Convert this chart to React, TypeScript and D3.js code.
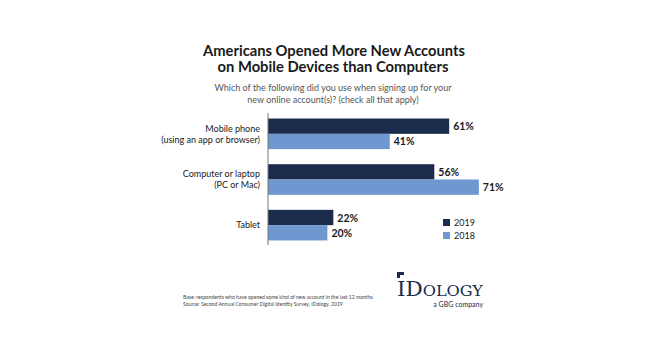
import React from "react";
import * as d3 from "d3";

const categories = ["Mobile phone", "Computer or laptop", "Tablet"];
const categoryLines = [
  ["Mobile phone", "(using an app or browser)"],
  ["Computer or laptop", "(PC or Mac)"],
  ["Tablet"],
];
const seriesNames = ["2019", "2018"];
const values2019 = [61, 56, 22];
const values2018 = [41, 71, 20];
const seriesValues = [values2019, values2018];
const seriesColors = ["#1b2b4b", "#6f97d0"];

const W = 668;
const H = 350;
const FONT = "Lato, 'Open Sans', sans-serif";

export default function App() {
  const x = d3.scaleLinear().domain([0, 100]).range([268, 565]);
  const y = d3
    .scaleBand<string>()
    .domain(categories)
    .range([111, 248])
    .paddingInner(0.33)
    .paddingOuter(0.165);
  const ySub = d3
    .scaleBand<string>()
    .domain(seriesNames)
    .range([0, y.bandwidth()]);

  return (
    <svg
      width={W}
      height={H}
      viewBox={`0 0 ${W} ${H}`}
      style={{ position: "absolute", left: 0, top: 0, background: "#fff" }}
    >
      <rect x={0} y={0} width={W} height={H} fill="#fff" />
      {/* Title */}
      <text
        x={334}
        y={55.5}
        textAnchor="middle"
        fontFamily={FONT}
        fontWeight={700}
        fontSize={15.5}
        textLength={262}
        lengthAdjust="spacingAndGlyphs"
        fill="#1a1a1a"
      >
        Americans Opened More New Accounts
      </text>
      <text
        x={333}
        y={72}
        textAnchor="middle"
        fontFamily={FONT}
        fontWeight={700}
        fontSize={15.5}
        textLength={231}
        lengthAdjust="spacingAndGlyphs"
        fill="#1a1a1a"
      >
        on Mobile Devices than Computers
      </text>
      <text x={333} y={91} textAnchor="middle" fontFamily={FONT} fontSize={9} fill="#555">
        Which of the following did you use when signing up for your
      </text>
      <text x={333} y={103} textAnchor="middle" fontFamily={FONT} fontSize={9} fill="#555">
        new online account(s)? (check all that apply)
      </text>

      {/* Bars */}
      {categories.map((c, ci) =>
        seriesNames.map((s, si) => {
          const v = seriesValues[si][ci];
          const by = (y(c) ?? 0) + (ySub(s) ?? 0);
          const bh = ySub.bandwidth();
          return (
            <g key={c + s}>
              <rect
                x={x(0)}
                y={by}
                width={x(v) - x(0)}
                height={bh}
                fill={seriesColors[si]}
              />
              <text
                x={x(v) + 4}
                y={by + bh / 2 + 4}
                fontFamily={FONT}
                fontWeight={700}
                fontSize={10.5}
                fill="#1a1a1a"
              >
                {v}%
              </text>
            </g>
          );
        })
      )}

      {/* Axis line */}
      <line x1={x(0)} x2={x(0)} y1={113} y2={245} stroke="#777" strokeWidth={1} />

      {/* Category labels */}
      {categories.map((c, ci) => {
        const lines = categoryLines[ci];
        const cy = (y(c) ?? 0) + y.bandwidth() / 2;
        const lh = 11;
        const start = cy - ((lines.length - 1) * lh) / 2 + 3.2;
        return (
          <text
            key={c}
            textAnchor="end"
            fontFamily={FONT}
            fontSize={9}
            fill="#1a1a1a"
          >
            {lines.map((l, li) => (
              <tspan key={li} x={260} y={start + li * lh}>
                {l}
              </tspan>
            ))}
          </text>
        );
      })}

      {/* Legend */}
      {seriesNames.map((s, si) => (
        <g key={s} transform={`translate(443, ${219 + si * 13})`}>
          <rect x={0} y={0} width={7} height={7} fill={seriesColors[si]} />
          <text x={11} y={7} fontFamily={FONT} fontSize={9} fill="#1a1a1a">
            {s}
          </text>
        </g>
      ))}

      {/* Footnote */}
      <text x={183} y={299} fontFamily={FONT} fontSize={5.1} fill="#444">
        Base: respondents who have opened some kind of new account in the last 12 months
      </text>
      <text x={183} y={306} fontFamily={FONT} fontSize={5.1} fill="#444">
        Source: Second Annual Consumer Digital Identity Survey, IDology, 2019
      </text>

      {/* Logo */}
      <g>
        <path d="M397,272 L404,272 L404,275 L400,275 L400,278 L397,278 Z" fill="#1b2b4b" />
        <text
          x={397}
          y={296}
          fontFamily="'DejaVu Serif', 'Liberation Serif', serif"
          fill="#1b2b4b"
          textLength={86}
          lengthAdjust="spacingAndGlyphs"
        >
          <tspan fontSize={20}>ID</tspan>
          <tspan fontSize={15}>OLOGY</tspan>
        </text>
        <text x={483} y={307} textAnchor="end" fontFamily={FONT} fontSize={7} fill="#1b2b4b">
          a GBG company
        </text>
      </g>
    </svg>
  );
}
